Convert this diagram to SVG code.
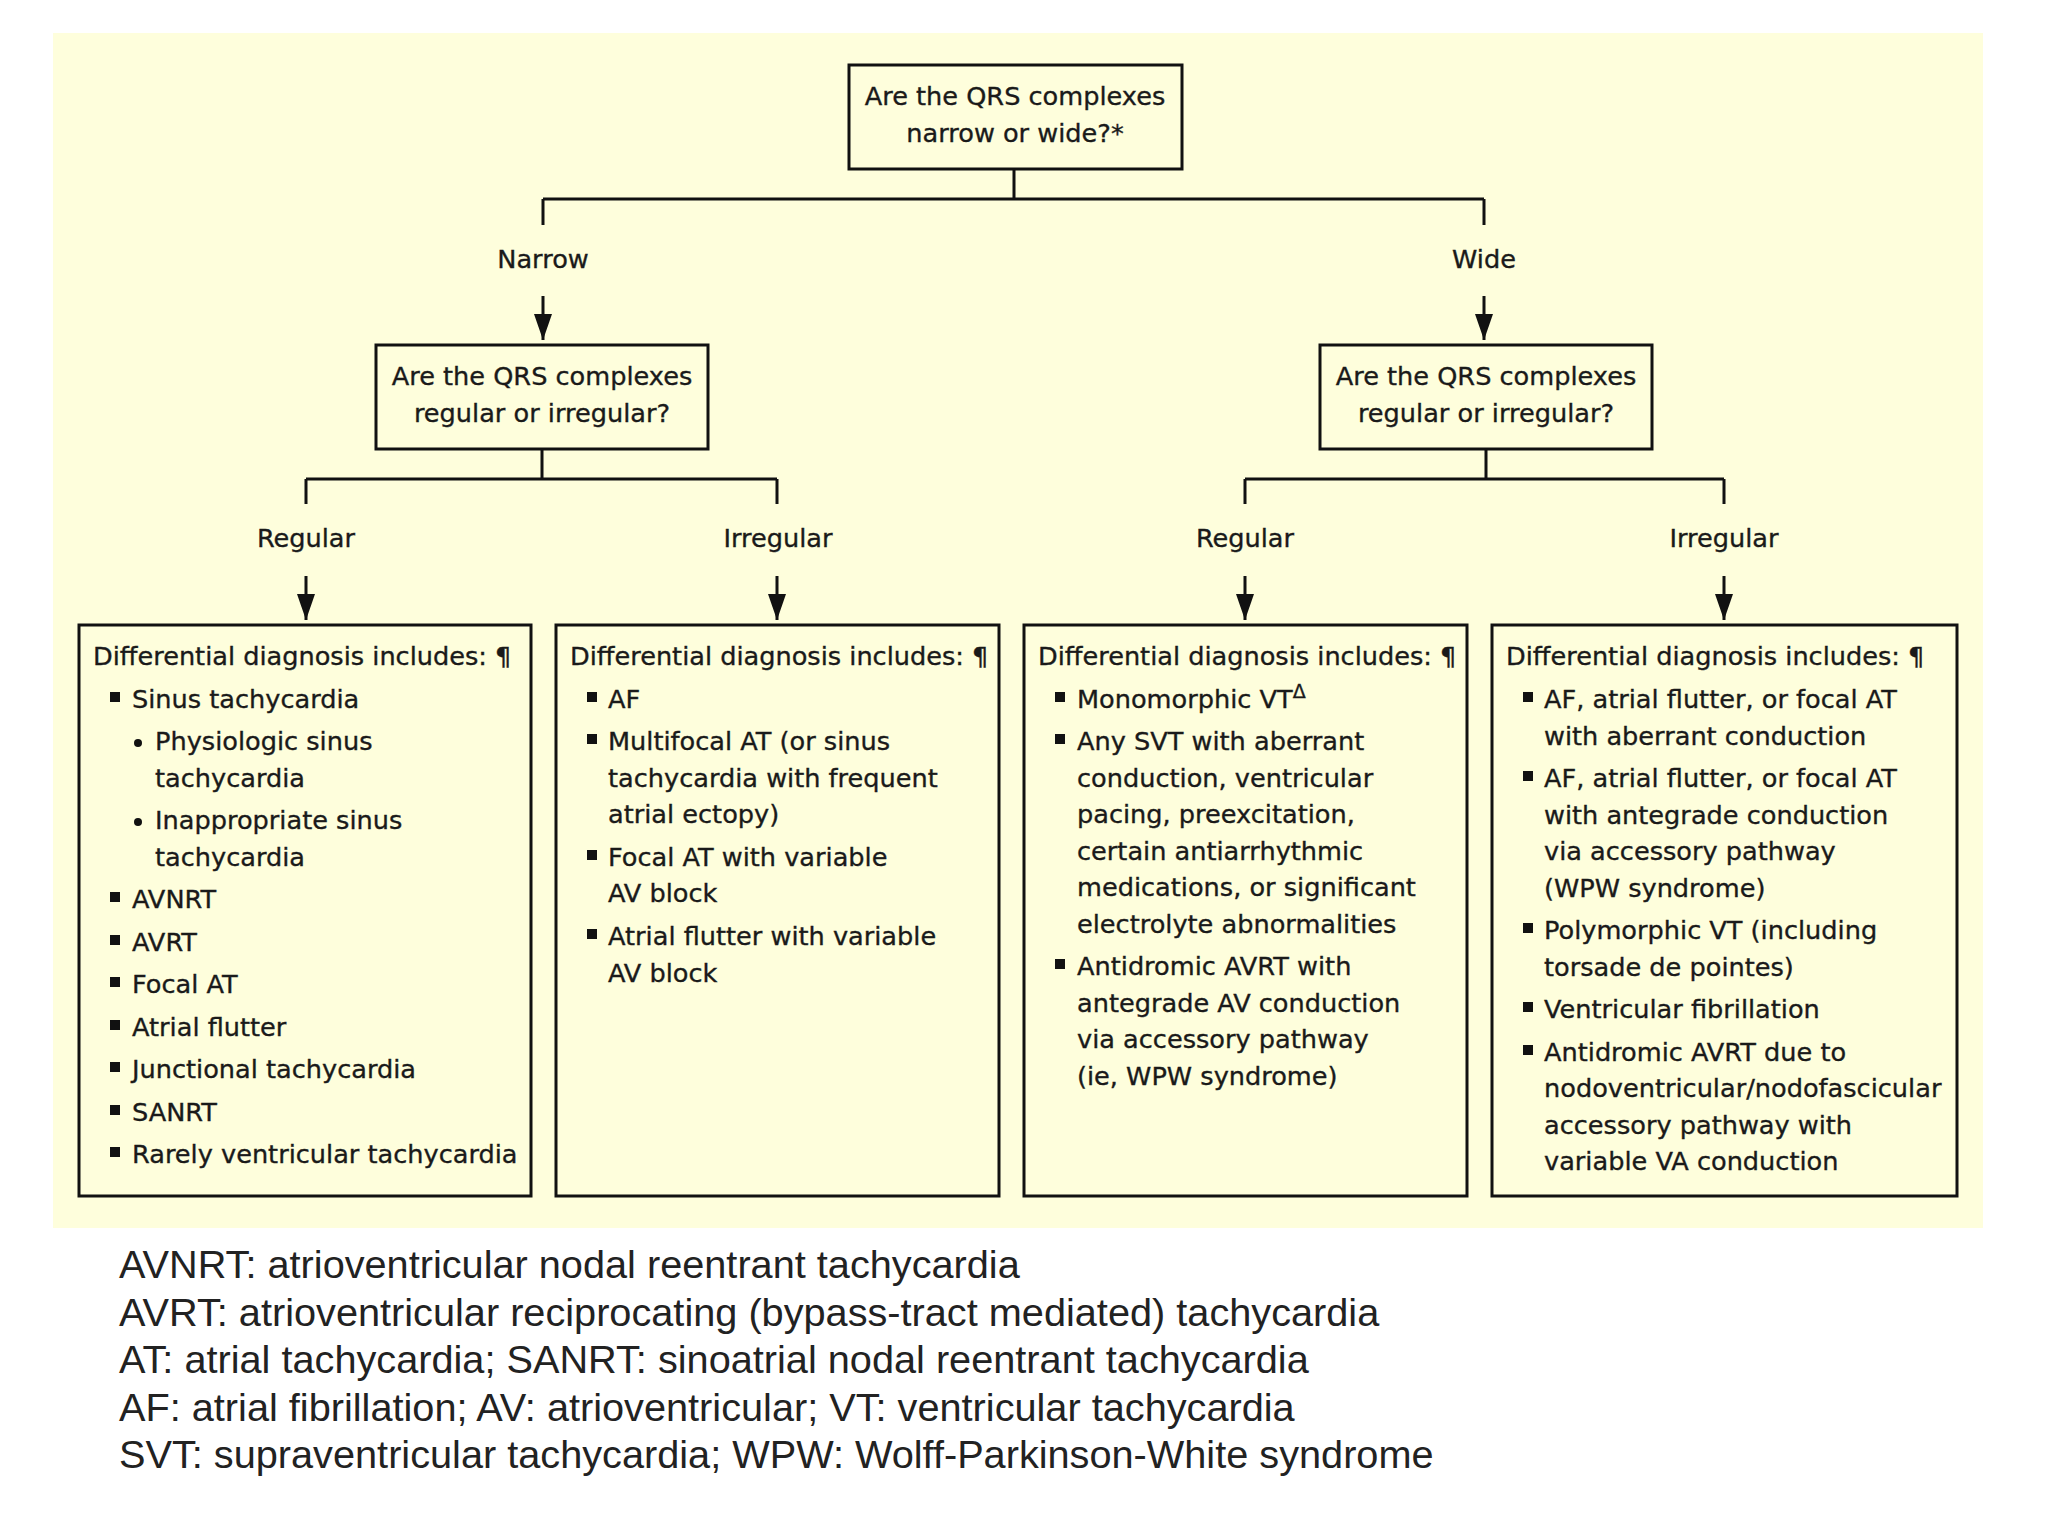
<svg xmlns="http://www.w3.org/2000/svg" width="2048" height="1536" viewBox="0 0 2048 1536">
<defs>
<style>
.bg{fill:#FEFEDC;}
.box{fill:#FEFEDC;stroke:#111;stroke-width:3;}
.ln{fill:none;stroke:#111;stroke-width:3;}
.t{font-family:"DejaVu Sans",Verdana,sans-serif;font-size:25.6px;fill:#1a1a1a;stroke:#1a1a1a;stroke-width:0.35px;}
.c{text-anchor:middle;}
.lg{font-family:"Liberation Sans",Arial,sans-serif;font-size:39.7px;fill:#222;}
.sq{fill:#111;}
</style>
<marker id="ah" viewBox="0 0 26 18" refX="26" refY="9" markerWidth="26" markerHeight="18" markerUnits="userSpaceOnUse" orient="auto">
<path d="M0,0 L26,9 L0,18 z" fill="#111"/>
</marker>
</defs>
<rect width="2048" height="1536" fill="#ffffff"/>
<rect class="bg" x="53" y="33" width="1930" height="1195"/>

<g id="connectors">
<path class="ln" d="M1014,169 V199 M543,199 H1484 M543,199 V225 M1484,199 V225"/>
<path class="ln" d="M543,296 V340" marker-end="url(#ah)"/>
<path class="ln" d="M1484,296 V340" marker-end="url(#ah)"/>
<path class="ln" d="M542,449 V479 M306,479 H777 M306,479 V504 M777,479 V504"/>
<path class="ln" d="M1486,449 V479 M1245,479 H1724 M1245,479 V504 M1724,479 V504"/>
<path class="ln" d="M306,576 V620" marker-end="url(#ah)"/>
<path class="ln" d="M777,576 V620" marker-end="url(#ah)"/>
<path class="ln" d="M1245,576 V620" marker-end="url(#ah)"/>
<path class="ln" d="M1724,576 V620" marker-end="url(#ah)"/>
</g>

<g id="labels">
<text class="t c" x="543" y="268">Narrow</text>
<text class="t c" x="1484" y="268">Wide</text>
<text class="t c" x="306" y="547">Regular</text>
<text class="t c" x="778" y="547">Irregular</text>
<text class="t c" x="1245" y="547">Regular</text>
<text class="t c" x="1724" y="547">Irregular</text>
</g>

<g id="q-top">
<rect class="box" x="849" y="65" width="333" height="104"/>
<text class="t c" x="1015" y="105">Are the QRS complexes</text>
<text class="t c" x="1015" y="142">narrow or wide?*</text>
</g>

<g id="q-narrow">
<rect class="box" x="376" y="345" width="332" height="104"/>
<text class="t c" x="542" y="385">Are the QRS complexes</text>
<text class="t c" x="542" y="422">regular or irregular?</text>
</g>

<g id="q-wide">
<rect class="box" x="1320" y="345" width="332" height="104"/>
<text class="t c" x="1486" y="385">Are the QRS complexes</text>
<text class="t c" x="1486" y="422">regular or irregular?</text>
</g>

<g id="dd-narrow-regular">
<rect class="box" x="79" y="625" width="452" height="571"/>
<text class="t" x="93" y="665">Differential diagnosis includes: ¶</text>
<rect class="sq" x="110" y="692" width="10" height="10"/>
<text class="t" x="132" y="708">Sinus tachycardia</text>
<circle class="sq" cx="138" cy="743" r="4"/>
<text class="t" x="155" y="750">Physiologic sinus</text>
<text class="t" x="155" y="787">tachycardia</text>
<circle class="sq" cx="138" cy="822" r="4"/>
<text class="t" x="155" y="829">Inappropriate sinus</text>
<text class="t" x="155" y="866">tachycardia</text>
<rect class="sq" x="110" y="892" width="10" height="10"/>
<text class="t" x="132" y="908">AVNRT</text>
<rect class="sq" x="110" y="935" width="10" height="10"/>
<text class="t" x="132" y="951">AVRT</text>
<rect class="sq" x="110" y="977" width="10" height="10"/>
<text class="t" x="132" y="993">Focal AT</text>
<rect class="sq" x="110" y="1020" width="10" height="10"/>
<text class="t" x="132" y="1036">Atrial flutter</text>
<rect class="sq" x="110" y="1062" width="10" height="10"/>
<text class="t" x="132" y="1078">Junctional tachycardia</text>
<rect class="sq" x="110" y="1105" width="10" height="10"/>
<text class="t" x="132" y="1121">SANRT</text>
<rect class="sq" x="110" y="1147" width="10" height="10"/>
<text class="t" x="132" y="1163">Rarely ventricular tachycardia</text>
</g>

<g id="dd-narrow-irregular">
<rect class="box" x="556" y="625" width="443" height="571"/>
<text class="t" x="570" y="665">Differential diagnosis includes: ¶</text>
<rect class="sq" x="587" y="692" width="10" height="10"/>
<text class="t" x="608" y="708">AF</text>
<rect class="sq" x="587" y="734" width="10" height="10"/>
<text class="t" x="608" y="750">Multifocal AT (or sinus</text>
<text class="t" x="608" y="787">tachycardia with frequent</text>
<text class="t" x="608" y="823">atrial ectopy)</text>
<rect class="sq" x="587" y="850" width="10" height="10"/>
<text class="t" x="608" y="866">Focal AT with variable</text>
<text class="t" x="608" y="902">AV block</text>
<rect class="sq" x="587" y="929" width="10" height="10"/>
<text class="t" x="608" y="945">Atrial flutter with variable</text>
<text class="t" x="608" y="982">AV block</text>
</g>

<g id="dd-wide-regular">
<rect class="box" x="1024" y="625" width="443" height="571"/>
<text class="t" x="1038" y="665">Differential diagnosis includes: ¶</text>
<rect class="sq" x="1055" y="692" width="10" height="10"/>
<text class="t" x="1077" y="708">Monomorphic VT<tspan font-size="19" dy="-10">Δ</tspan></text>
<rect class="sq" x="1055" y="734" width="10" height="10"/>
<text class="t" x="1077" y="750">Any SVT with aberrant</text>
<text class="t" x="1077" y="787">conduction, ventricular</text>
<text class="t" x="1077" y="823">pacing, preexcitation,</text>
<text class="t" x="1077" y="860">certain antiarrhythmic</text>
<text class="t" x="1077" y="896">medications, or significant</text>
<text class="t" x="1077" y="933">electrolyte abnormalities</text>
<rect class="sq" x="1055" y="959" width="10" height="10"/>
<text class="t" x="1077" y="975">Antidromic AVRT with</text>
<text class="t" x="1077" y="1012">antegrade AV conduction</text>
<text class="t" x="1077" y="1048">via accessory pathway</text>
<text class="t" x="1077" y="1085">(ie, WPW syndrome)</text>
</g>

<g id="dd-wide-irregular">
<rect class="box" x="1492" y="625" width="465" height="571"/>
<text class="t" x="1506" y="665">Differential diagnosis includes: ¶</text>
<rect class="sq" x="1523" y="692" width="10" height="10"/>
<text class="t" x="1544" y="708">AF, atrial flutter, or focal AT</text>
<text class="t" x="1544" y="745">with aberrant conduction</text>
<rect class="sq" x="1523" y="771" width="10" height="10"/>
<text class="t" x="1544" y="787">AF, atrial flutter, or focal AT</text>
<text class="t" x="1544" y="824">with antegrade conduction</text>
<text class="t" x="1544" y="860">via accessory pathway</text>
<text class="t" x="1544" y="897">(WPW syndrome)</text>
<rect class="sq" x="1523" y="923" width="10" height="10"/>
<text class="t" x="1544" y="939">Polymorphic VT (including</text>
<text class="t" x="1544" y="976">torsade de pointes)</text>
<rect class="sq" x="1523" y="1002" width="10" height="10"/>
<text class="t" x="1544" y="1018">Ventricular fibrillation</text>
<rect class="sq" x="1523" y="1045" width="10" height="10"/>
<text class="t" x="1544" y="1061">Antidromic AVRT due to</text>
<text class="t" x="1544" y="1097">nodoventricular/nodofascicular</text>
<text class="t" x="1544" y="1134">accessory pathway with</text>
<text class="t" x="1544" y="1170">variable VA conduction</text>
</g>

<g id="legend">
<text class="lg" x="119" y="1278">AVNRT: atrioventricular nodal reentrant tachycardia</text>
<text class="lg" x="119" y="1326">AVRT: atrioventricular reciprocating (bypass-tract mediated) tachycardia</text>
<text class="lg" x="119" y="1373">AT: atrial tachycardia; SANRT: sinoatrial nodal reentrant tachycardia</text>
<text class="lg" x="119" y="1421">AF: atrial fibrillation; AV: atrioventricular; VT: ventricular tachycardia</text>
<text class="lg" x="119" y="1468">SVT: supraventricular tachycardia; WPW: Wolff-Parkinson-White syndrome</text>
</g>
</svg>
